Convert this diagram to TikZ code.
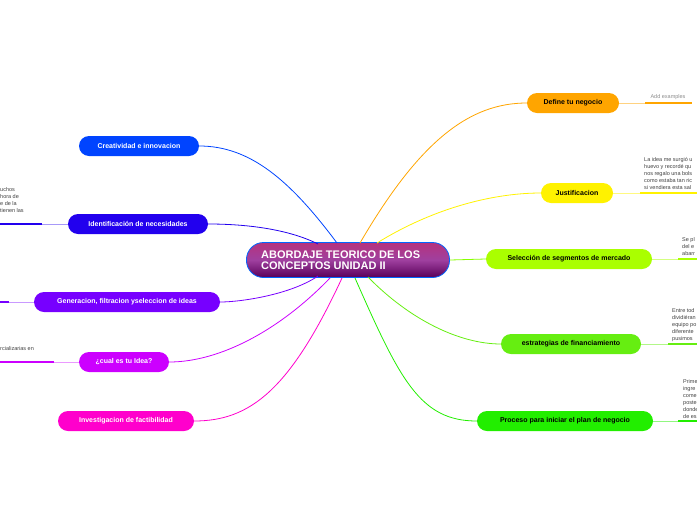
\documentclass[tikz,border=0pt]{standalone}
\usepackage{fontspec}
\setmainfont{Liberation Sans}
\begin{document}
\begin{tikzpicture}[x=1pt,y=-1pt,
 br/.style={rounded corners=10pt,minimum height=20pt,inner sep=0pt,font=\bfseries\fontsize{7}{8}\selectfont},
 lt/.style={text=white},
 dk/.style={text=black},
 note/.style={font=\fontsize{5.5}{7}\selectfont,text=black!75,align=left,anchor=north west,inner sep=0pt},
 ed/.style={line width=0.8pt}]
\useasboundingbox (0,0) rectangle (697,520);
\definecolor{c1}{HTML}{0044FF}\definecolor{c2}{HTML}{2200EE}\definecolor{c3}{HTML}{7700FF}
\definecolor{c4}{HTML}{CC00FF}\definecolor{c5}{HTML}{FF00CC}
\definecolor{r1}{HTML}{FFA500}\definecolor{r2}{HTML}{FFF200}\definecolor{r3}{HTML}{AAFF00}
\definecolor{r4}{HTML}{66EE11}\definecolor{r5}{HTML}{22EE00}
% center
\node[rounded corners=17pt,minimum width=203pt,minimum height=35pt,draw=blue!60!cyan,line width=0.8pt,
 top color=purple!55!violet!80,bottom color=violet!70!black,middle color=violet!75,shading angle=0] (c) at (348,260) {};
\node[text=white,font=\bfseries\fontsize{11}{11}\selectfont,align=left,anchor=west,inner sep=0pt] (ct) at (261,260) {ABORDAJE TEORICO DE LOS\\CONCEPTOS UNIDAD II};
% right nodes
\node[br,dk,fill=r1,minimum width=92pt] (a1) at (573,103) {Define tu negocio};
\node[br,dk,fill=r2,minimum width=72pt] (a2) at (577,193) {Justificacion};
\node[br,dk,fill=r3,minimum width=166pt] (a3) at (569,259) {Selección de segmentos de mercado};
\node[br,dk,fill=r4,minimum width=140pt] (a4) at (571,344) {estrategias de financiamiento};
\node[br,dk,fill=r5,minimum width=176pt] (a5) at (565,421) {Proceso para iniciar el plan de negocio};
% left nodes
\node[br,lt,fill=c1,minimum width=120pt] (b1) at (139,146) {Creatividad e innovacion};
\node[br,lt,fill=c2,minimum width=140pt] (b2) at (138,224) {Identificación de necesidades};
\node[br,lt,fill=c3,minimum width=186pt] (b3) at (127,302) {Generacion, filtracion yseleccion de ideas};
\node[br,lt,fill=c4,minimum width=90pt] (b4) at (124,362) {¿cual es tu Idea?};
\node[br,lt,fill=c5,minimum width=136pt] (b5) at (126,421) {Investigacion de factibilidad};
% coordinates
\coordinate (s1) at (360,243);\coordinate (s2) at (377,243);\coordinate (s3) at (450,260);
\coordinate (s4) at (368,277);\coordinate (s5) at (355,278);
\coordinate (t1) at (337,243);\coordinate (t2) at (318,244);\coordinate (t3) at (318,276);
\coordinate (t4) at (330,278);\coordinate (t5) at (342,278);
% edges
\draw[ed,r1] (s1) .. controls (420,140) and (470,103) .. (a1.west);
\draw[ed,r2] (s2) .. controls (430,210) and (490,193) .. (a2.west);
\draw[ed,r3!80!green] (s3) -- (a3.west);
\draw[ed,r4] (s4) .. controls (410,320) and (460,344) .. (a4.west);
\draw[ed,r5] (s5) .. controls (400,380) and (420,421) .. (a5.west);
\draw[ed,c1] (t1) .. controls (290,180) and (250,146) .. (b1.east);
\draw[ed,c2] (t2) .. controls (290,230) and (250,224) .. (b2.east);
\draw[ed,c3] (t3) .. controls (290,295) and (240,302) .. (b3.east);
\draw[ed,c4] (t4) .. controls (280,330) and (220,362) .. (b4.east);
\draw[ed,c5] (t5) .. controls (290,390) and (250,421) .. (b5.east);
% leaf lines
\coordinate (e1) at (692,103);\coordinate (e2) at (697,193);\coordinate (e3) at (697,259);
\coordinate (e4) at (697,344);\coordinate (e5) at (697,421);
\draw[line width=0.8pt,r1!50] (a1.east) -- (645,103); \draw[line width=1.3pt,r1] (645,103) -- (e1);
\draw[line width=0.8pt,r2!50] (a2.east) -- (640,193); \draw[line width=1.3pt,r2] (640,193) -- (e2);
\draw[line width=0.8pt,r3!50] (a3.east) -- (678,259); \draw[line width=1.3pt,r3] (678,259) -- (e3);
\draw[line width=0.8pt,r4!50] (a4.east) -- (668,344); \draw[line width=1.3pt,r4] (668,344) -- (e4);
\draw[line width=0.8pt,r5!50] (a5.east) -- (678,421); \draw[line width=1.3pt,r5] (678,421) -- (e5);
\coordinate (f2) at (0,224);\coordinate (f3) at (0,302);\coordinate (f4) at (0,362);
\draw[line width=0.8pt,c2!40] (b2.west) -- (42,224); \draw[line width=1.3pt,c2] (42,224) -- (f2);
\draw[line width=0.8pt,c3!40] (b3.west) -- (9,302); \draw[line width=1.3pt,c3] (9,302) -- (f3);
\draw[line width=0.8pt,c4!40] (b4.west) -- (54,362); \draw[line width=1.3pt,c4] (54,362) -- (f4);
% notes
\node[font=\fontsize{5.5}{7}\selectfont,text=black!45] (n1) at (668,97) {Add examples};
\node[note] (n2) at (644,157) {La idea me surgió u\\huevo y recordé qu\\nos regalo una bols\\como estaba tan ric\\si vendiera esta sal};
\node[note] (n3) at (682,237) {Se pl\\del e\\abarr};
\node[note] (n4) at (672,308) {Entre tod\\dividiéran\\equipo po\\diferente\\pusimos};
\node[note] (n5) at (683,379) {Prime\\ingre\\come\\poste\\donde\\de es};
\node[note,anchor=north west] (m2) at (0,187) {uchos\\hora de\\e de la\\tienen las};
\node[note,anchor=north west] (m4) at (0,346) {rcializarias en};
\end{tikzpicture}
\end{document}
